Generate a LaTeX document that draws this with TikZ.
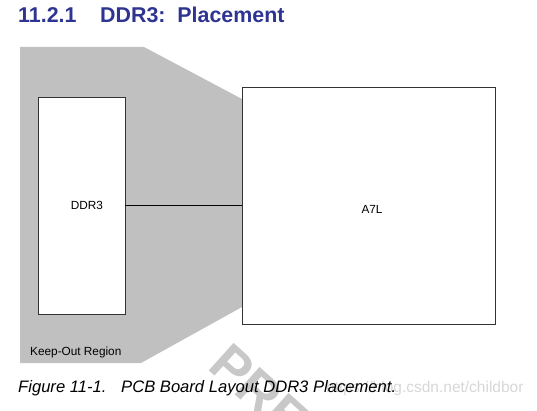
\documentclass[tikz,border=0pt]{standalone}
\usepackage{fontspec}
\setmainfont{Liberation Sans}
\definecolor{titleblue}{RGB}{46,52,146}
\definecolor{keepgray}{RGB}{192,192,192}
\definecolor{wmgray}{RGB}{200,200,200}
\definecolor{urlgray}{RGB}{215,215,215}
\begin{document}
\begin{tikzpicture}[x=1pt,y=-1pt,
  chip/.style={draw=black!80,line width=0.9pt,fill=white,inner sep=0pt,outer sep=0pt},
  lbl/.style={inner sep=0pt,font=\fontsize{11.8}{14}\selectfont},
  ttl/.style={inner sep=0pt,anchor=base west,text=titleblue,font=\fontsize{21.4}{25}\selectfont\bfseries},
  captxt/.style={inner sep=0pt,anchor=base west,font=\fontsize{16.6}{19}\selectfont\itshape}]
\useasboundingbox (0,0) rectangle (537,411);
\clip (0,0) rectangle (537,411);
% title
\node[ttl] (tnum) at (18,23) {11.2.1};
\node[ttl] (ttxt) at (100,23) {DDR3:\ \ Placement};
% keep-out region
\fill[keepgray] (20,47) -- (144,47) -- (242,99) -- (242,307) -- (141,363) -- (20,363) -- cycle;
\node[lbl,anchor=base west] (keep) at (30,355) {Keep-Out Region};
% chips
\node[chip,minimum width=87pt,minimum height=217pt] (ddr) at (81.5,205.5) {};
\node[chip,minimum width=253pt,minimum height=237pt] (a7l) at (368.5,205.5) {};
\node[lbl] (ddrlbl) at (87,205) {DDR3};
\node[lbl] (a7llbl) at (372,209) {A7L};
\draw[black,line width=0.8pt] (ddr.east) -- (ddr.east -| a7l.west);
% watermarks
\node[inner sep=0pt,anchor=base west,rotate=-42,text=wmgray,font=\fontsize{54}{60}\selectfont\bfseries] (wm) at (206,368) {PRELIMINARY};
\node[inner sep=0pt,anchor=base west,text=urlgray,font=\fontsize{15.5}{18}\selectfont] (url) at (326,392) {https://blog.csdn.net/childbor};
% caption
\node[captxt] (fig) at (18,392) {Figure 11-1.};
\node[captxt] (figtxt) at (121,392) {PCB Board Layout DDR3 Placement.};
\end{tikzpicture}
\end{document}
